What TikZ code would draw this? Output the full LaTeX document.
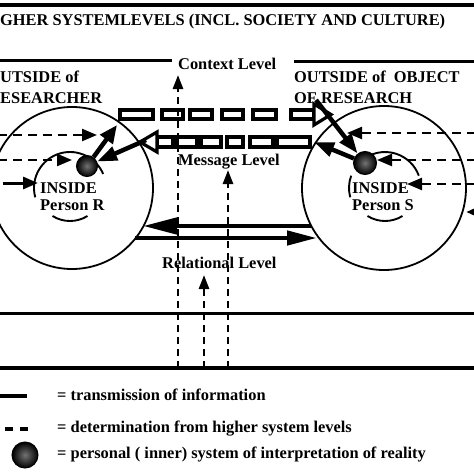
\documentclass[tikz,border=0pt]{standalone}
\usepackage{fontspec}
\setmainfont{Liberation Serif}
\usetikzlibrary{arrows.meta}
\begin{document}
\begin{tikzpicture}[x=1pt,y=-1pt,
  txt/.style={font=\bfseries\fontsize{16.4}{18}\selectfont, inner sep=0pt, anchor=base west},
  bigcirc/.style={circle, draw, line width=1.8pt, inner sep=0pt},
  dsh/.style={line width=2.4pt, dash pattern=on 9pt off 6pt},
  vdsh/.style={line width=2.6pt, dash pattern=on 7pt off 5pt},
  tip/.style={-{Triangle[length=15pt,width=12pt]}},
  vtip/.style={-{Triangle[length=14pt,width=10pt]}},
  fat/.style={line width=4.5pt},
  msg/.style={line width=3.2pt, fill=white, line join=miter},
  inner/.style={line width=1.9pt},
  dot/.style={circle, draw=black, line width=1pt, inner sep=0pt, shading=radial, inner color=black!55, outer color=black}
]
\useasboundingbox (0,0) rectangle (474,474);
\fill[white] (0,0) rectangle (474,474);

% horizontal level lines
\coordinate (t0) at (-2,5); \coordinate (t1) at (476,5);
\draw[line width=4pt] (t0) -- (t1);
\coordinate (c0) at (-2,60.5); \coordinate (c1) at (172,60.5);
\coordinate (c2) at (294,61); \coordinate (c3) at (476,61);
\draw[line width=3pt] (c0) -- (c1);
\draw[line width=3pt] (c2) -- (c3);
\coordinate (r0) at (-2,313); \coordinate (r1) at (476,313);
\draw[line width=3pt] (r0) -- (r1);
\coordinate (b0) at (-2,368); \coordinate (b1) at (476,368);
\draw[line width=4pt] (b0) -- (b1);

% texts
\node[txt] (title) at (0,25) {GHER SYSTEMLEVELS (INCL. SOCIETY AND CULTURE)};
\node[txt] (ctx) at (178,69.5) {Context Level};
\node[txt] (outR1) at (0,82) {UTSIDE of};
\node[txt] (outR2) at (0,103) {ESEARCHER};
\node[txt] (outS1) at (294,82) {OUTSIDE of\ \ OBJECT};
\node[txt] (outS2) at (294,103) {OF RESEARCH};
\node[txt] (inR) at (40,193) {INSIDE};
\node[txt] (perR) at (40,210) {Person R};
\node[txt] (inS) at (352,193) {INSIDE};
\node[txt] (perS) at (352,210) {Person S};
\node[txt] (msgl) at (178,165) {Message Level};
\node[txt] (rell) at (162,268) {Relational Level};

% big circles
\node[bigcirc, minimum size=162pt] (cR) at (72,188) {};
\node[bigcirc, minimum size=164pt] (cS) at (384,188) {};

% inner circles
\draw[inner] (70,188) ++(165:36) arc (165:337:36);
\draw[inner] (70,188) ++(58:33) arc (58:122:33);
\draw[inner] (385,188) ++(228:36) arc (228:340:36);
\draw[inner] (385,188) ++(165:36) arc (165:200:36);
\draw[inner] (385,188) ++(58:33) arc (58:122:33);

% dots
\node[dot, minimum size=21pt] (dR) at (87,166) {};
\node[dot, minimum size=23pt] (dS) at (365,163) {};

% message rows
\foreach \a/\b in {120/153,162/183,190/212,222/243,253/276,291/314}
  \draw[msg] (\a,110) rectangle (\b,119);
\draw[msg] (314,104) -- (331,114.5) -- (314,125) -- cycle;
\foreach \a/\b in {157/173,177/197,201/221,227/243,250/273,277/310}
  \draw[msg] (\a,137) rectangle (\b,147);
\draw[msg] (157,132) -- (140,142) -- (157,152) -- cycle;

% vertical dashed determination lines
\coordinate (v1a) at (178,368); \coordinate (v1b) at (178,75);
\coordinate (v2a) at (204,368); \coordinate (v2b) at (204,275);
\coordinate (v3a) at (228,368); \coordinate (v3b) at (228,170);
\draw[vdsh, vtip] (v1a) -- (v1b);
\draw[vdsh, vtip] (v2a) -- (v2b);
\draw[vdsh, vtip] (v3a) -- (v3b);

% left determination arrows
\coordinate (l1s) at (-2,135); \coordinate (l1e) at (97,135);
\coordinate (l2s) at (-2,160); \coordinate (l2e) at (72,160);
\coordinate (l3s) at (3,183); \coordinate (l3e) at (38,183);
\draw[dsh, tip] (l1s) -- (l1e);
\draw[dsh, tip] (l2s) -- (l2e);
\draw[line width=3pt, tip] (l3s) -- (l3e);

% right determination arrows
\coordinate (q1s) at (476,133); \coordinate (q1e) at (347,133);
\coordinate (q2s) at (476,160); \coordinate (q2e) at (377,160);
\coordinate (q3s) at (476,184); \coordinate (q3e) at (407,184);
\draw[dsh, tip] (q1s) -- (q1e);
\draw[dsh, tip] (q2s) -- (q2e);
\draw[dsh, tip] (q3s) -- (q3e);
\coordinate (q4s) at (492,212); \coordinate (q4e) at (466,212);
\draw[fat, -{Triangle[length=16pt,width=13pt]}] (q4s) -- (q4e);

% message transmission arrows
\coordinate (m1) at (117,125);
\coordinate (m2) at (146,140);
\coordinate (m3) at (316,100);
\coordinate (m4) at (314,142);
\draw[fat, -{Triangle[length=18pt,width=15pt]}] (dR) -- (m1);
\draw[fat, -{Triangle[length=20pt,width=14pt]}] (m2) -- (dR);
\draw[fat, -{Triangle[length=20pt,width=14pt]}] (m3) -- (dS);
\draw[fat, -{Triangle[length=20pt,width=14pt]}] (dS) -- (m4);

% relational level arrows
\coordinate (ra) at (311,226); \coordinate (rb) at (143,226);
\coordinate (rc) at (135,238); \coordinate (rd) at (317,238);
\draw[line width=4.5pt, -{Triangle[length=34pt,width=16pt]}] (ra) -- (rb);
\draw[line width=4.5pt, -{Triangle[length=30pt,width=14pt]}] (rc) -- (rd);

% legend
\coordinate (g1) at (0,396); \coordinate (g2) at (27,396);
\draw[line width=4pt] (g1) -- (g2);
\coordinate (g3) at (5,429); \coordinate (g4) at (13,429);
\coordinate (g5) at (20,429); \coordinate (g6) at (28,429);
\draw[line width=3.5pt] (g3) -- (g4);
\draw[line width=3.5pt] (g5) -- (g6);
\node[dot, minimum size=26pt] (gdot) at (25,455) {};
\node[txt] (lg1) at (57,400) {= transmission of information};
\node[txt] (lg2) at (57,432) {= determination from higher system levels};
\node[txt] (lg3) at (57,458) {= personal ( inner) system of interpretation of reality};
\end{tikzpicture}
\end{document}
